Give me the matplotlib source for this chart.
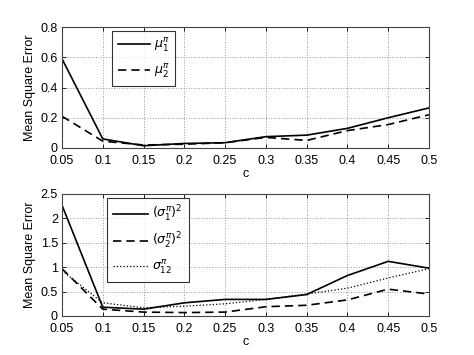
import matplotlib
matplotlib.use("Agg")
import matplotlib.pyplot as plt

c = [0.05, 0.1, 0.15, 0.2, 0.25, 0.3, 0.35, 0.4, 0.45, 0.5]
mu1 = [0.59, 0.06, 0.015, 0.03, 0.035, 0.075, 0.085, 0.13, 0.20, 0.265]
mu2 = [0.21, 0.045, 0.02, 0.025, 0.035, 0.07, 0.05, 0.115, 0.155, 0.22]
sig1 = [2.27, 0.18, 0.14, 0.27, 0.34, 0.34, 0.44, 0.83, 1.12, 0.98]
sig2 = [0.97, 0.14, 0.08, 0.07, 0.08, 0.19, 0.22, 0.33, 0.55, 0.45]
sig12 = [0.93, 0.27, 0.17, 0.20, 0.25, 0.34, 0.45, 0.57, 0.78, 0.97]
xticklabels = ['0.05', '0.1', '0.15', '0.2', '0.25', '0.3', '0.35', '0.4', '0.45', '0.5']

plt.rcParams['font.family'] = ['Liberation Sans', 'DejaVu Sans']
plt.rcParams['mathtext.fontset'] = 'dejavusans'
fs = 9

fig = plt.figure(figsize=(4.74, 3.55), dpi=100)
W, H = 474, 355
ax1 = fig.add_axes([62 / W, 1 - 148 / H, (429 - 62) / W, (148 - 27) / H])
ax2 = fig.add_axes([62 / W, 1 - 316 / H, (429 - 62) / W, (316 - 194) / H])

def style(ax, yticks, ylim):
    ax.set_xlim(0.05, 0.5)
    ax.set_ylim(*ylim)
    ax.set_xticks(c)
    ax.set_xticklabels(xticklabels)
    ax.set_yticks(yticks)
    ax.tick_params(direction='in', labelsize=fs, length=3, top=True, right=True, width=0.6)
    ax.tick_params(axis='x', pad=5)
    ax.tick_params(axis='y', pad=3)
    ax.grid(True, linestyle=':', color='#999999', linewidth=0.7)
    for s in ax.spines.values():
        s.set_linewidth(0.8)
        s.set_color('#444444')
    ax.set_xlabel('c', fontsize=fs, labelpad=1)
    ax.set_ylabel('Mean Square Error', fontsize=fs, labelpad=3)

ax1.plot(c, mu1, 'k-', lw=1.2, label=r'$\mu_1^\pi$')
ax1.plot(c, mu2, 'k--', lw=1.2, dashes=(5, 3), label=r'$\mu_2^\pi$')
style(ax1, [0, 0.2, 0.4, 0.6, 0.8], (0, 0.8))
ax1.set_yticklabels(['0', '0.2', '0.4', '0.6', '0.8'])
leg1 = ax1.legend(loc='upper left', bbox_to_anchor=(0.136, 0.967), borderaxespad=0,
                  fontsize=fs, frameon=True,
                  fancybox=False, edgecolor='k', handlelength=2.6, labelspacing=0.7,
                  borderpad=0.45, handletextpad=0.3)
leg1.get_frame().set_linewidth(0.8)

ax2.plot(c, sig1, 'k-', lw=1.2, label=r'$(\sigma_1^\pi)^2$')
ax2.plot(c, sig2, 'k--', lw=1.2, dashes=(5, 3), label=r'$(\sigma_2^\pi)^2$')
ax2.plot(c, sig12, 'k:', lw=0.9, label=r'$\sigma_{12}^\pi$')
style(ax2, [0, 0.5, 1, 1.5, 2, 2.5], (0, 2.5))
ax2.set_yticklabels(['0', '0.5', '1', '1.5', '2', '2.5'])
leg2 = ax2.legend(loc='upper left', bbox_to_anchor=(0.123, 0.967), borderaxespad=0,
                  fontsize=fs, frameon=True,
                  fancybox=False, edgecolor='k', handlelength=2.8, labelspacing=0.55,
                  borderpad=0.5, handletextpad=0.3)
leg2.get_frame().set_linewidth(0.8)

fig.savefig('out.png', dpi=100)
